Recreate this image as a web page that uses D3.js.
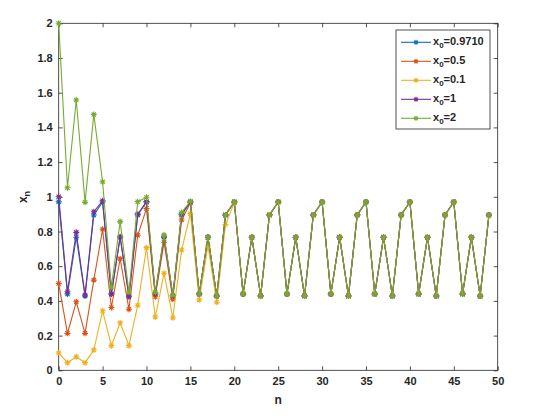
<!DOCTYPE html>
<html>
<head>
<meta charset="utf-8">
<script src="https://cdn.jsdelivr.net/npm/d3@7"></script>
<style>
  body { margin: 0; background: #fff; }
  svg { display: block; font-family: "Liberation Sans", Arial, sans-serif; }
</style>
</head>
<body>
<svg width="536" height="417"></svg>
<script>
// donnees, n = 0..49
var seriesLabels = ["0.9710", "0.5", "0.1", "1", "2"];
var seriesColors = ["#0072BD", "#D95319", "#EDB120", "#7E2F8E", "#77AC30"];

var x0_0971 = [0.971,0.440,0.767,0.428,0.895, 0.970,0.440,0.767,0.428,0.895,
               0.970,0.440,0.767,0.428,0.895, 0.970,0.440,0.767,0.428,0.895,
               0.970,0.440,0.767,0.428,0.895, 0.970,0.440,0.767,0.428,0.895,
               0.970,0.440,0.767,0.428,0.895, 0.970,0.440,0.767,0.428,0.895,
               0.970,0.440,0.767,0.428,0.895, 0.970,0.440,0.767,0.428,0.895];
var x0_05 = [0.500,0.213,0.395,0.213,0.520, 0.813,0.362,0.643,0.352,0.778,
             0.932,0.424,0.738,0.410,0.866, 0.966,0.440,0.767,0.428,0.895,
             0.970,0.440,0.767,0.428,0.895, 0.970,0.440,0.767,0.428,0.895,
             0.970,0.440,0.767,0.428,0.895, 0.970,0.440,0.767,0.428,0.895,
             0.970,0.440,0.767,0.428,0.895, 0.970,0.440,0.767,0.428,0.895];
var x0_01 = [0.100,0.044,0.078,0.044,0.117, 0.343,0.142,0.274,0.142,0.375,
             0.707,0.307,0.559,0.303,0.693, 0.903,0.405,0.718,0.392,0.840,
             0.965,0.440,0.767,0.428,0.895, 0.970,0.440,0.767,0.428,0.895,
             0.970,0.440,0.767,0.428,0.895, 0.970,0.440,0.767,0.428,0.895,
             0.970,0.440,0.767,0.428,0.895, 0.970,0.440,0.767,0.428,0.895];
var x0_1 = [1.000,0.453,0.795,0.434,0.914, 0.977,0.440,0.770,0.424,0.900,
            0.972,0.440,0.770,0.430,0.900, 0.970,0.440,0.767,0.428,0.895,
            0.970,0.440,0.767,0.428,0.895, 0.970,0.440,0.767,0.428,0.895,
            0.970,0.440,0.767,0.428,0.895, 0.970,0.440,0.767,0.428,0.895,
            0.970,0.440,0.767,0.428,0.895, 0.970,0.440,0.767,0.428,0.895];
var x0_2 = [2.000,1.052,1.558,0.968,1.475, 1.087,0.480,0.857,0.450,0.972,
            0.997,0.450,0.780,0.432,0.910, 0.975,0.440,0.767,0.428,0.895,
            0.970,0.440,0.767,0.428,0.895, 0.970,0.440,0.767,0.428,0.895,
            0.970,0.440,0.767,0.428,0.895, 0.970,0.440,0.767,0.428,0.895,
            0.970,0.440,0.767,0.428,0.895, 0.970,0.440,0.767,0.428,0.895];
var seriesValues = [x0_0971, x0_05, x0_01, x0_1, x0_2];

var xTicks = [0, 5, 10, 15, 20, 25, 30, 35, 40, 45, 50];
var yTicks = [0, 0.2, 0.4, 0.6, 0.8, 1, 1.2, 1.4, 1.6, 1.8, 2];

var svg = d3.select("svg");
var plotL = 58.7, plotR = 497.7, plotT = 23.3, plotB = 370.3;
var axisColor = "#262626";

var x = d3.scaleLinear().domain([0, 50]).range([plotL, plotR]);
var y = d3.scaleLinear().domain([0, 2]).range([plotB, plotT]);

// forme de l'asterisque (comme le marqueur '*' de matlab)
function star(r) {
    var a = r * 0.707;
    return "M" + (-r) + ",0L" + r + ",0M0," + (-r) + "L0," + r +
        "M" + (-a) + "," + (-a) + "L" + a + "," + a +
        "M" + (-a) + "," + a + "L" + a + "," + (-a);
}

// axes
function styleAxis(g) {
    g.select(".domain").remove();
    g.selectAll("line").attr("stroke", axisColor).attr("stroke-width", 0.8);
    g.selectAll("text").attr("fill", axisColor).attr("font-size", "11px").attr("font-weight", "bold");
}
svg.append("g").attr("transform", "translate(0," + plotB + ")")
    .call(d3.axisBottom(x).tickValues(xTicks).tickSize(-4).tickSizeOuter(0).tickPadding(7))
    .call(styleAxis);
svg.append("g").attr("transform", "translate(0," + plotT + ")")
    .call(d3.axisTop(x).tickValues(xTicks).tickSize(-4).tickSizeOuter(0).tickFormat(""))
    .call(styleAxis);
svg.append("g").attr("transform", "translate(" + plotL + ",0)")
    .call(d3.axisLeft(y).tickValues(yTicks).tickSize(-4).tickSizeOuter(0).tickPadding(6).tickFormat(d3.format("")))
    .call(styleAxis);
svg.append("g").attr("transform", "translate(" + plotR + ",0)")
    .call(d3.axisRight(y).tickValues(yTicks).tickSize(-4).tickSizeOuter(0).tickFormat(""))
    .call(styleAxis);

svg.append("rect")
    .attr("x", plotL).attr("y", plotT)
    .attr("width", plotR - plotL).attr("height", plotB - plotT)
    .attr("fill", "none").attr("stroke", axisColor).attr("stroke-width", 0.8);

// courbes
var line = d3.line()
    .x(function(d, i) { return x(i); })
    .y(function(d) { return y(d); });

seriesValues.forEach(function(vals, k) {
    var g = svg.append("g");
    g.append("path")
        .attr("d", line(vals))
        .attr("fill", "none")
        .attr("stroke", seriesColors[k])
        .attr("stroke-width", 1.1);
    g.selectAll("path.mk").data(vals).enter()
        .append("path")
        .attr("class", "mk")
        .attr("transform", function(d, i) { return "translate(" + x(i) + "," + y(d) + ")"; })
        .attr("d", star(3))
        .attr("fill", "none")
        .attr("stroke", seriesColors[k])
        .attr("stroke-width", 1.1);
});

// titres des axes
svg.append("text")
    .attr("x", (plotL + plotR) / 2).attr("y", 404)
    .attr("text-anchor", "middle")
    .attr("font-size", "12px").attr("font-weight", "bold").attr("fill", axisColor)
    .text("n");

var yl = svg.append("text")
    .attr("transform", "translate(27,197) rotate(-90)")
    .attr("text-anchor", "middle")
    .attr("font-size", "12px").attr("font-weight", "bold").attr("fill", axisColor);
yl.append("tspan").text("x");
yl.append("tspan").attr("font-size", "9px").attr("dy", 3).text("n");

// legende
var legend = svg.append("g");
legend.append("rect")
    .attr("x", 396).attr("y", 30).attr("width", 94).attr("height", 99)
    .attr("fill", "#fff").attr("stroke", axisColor).attr("stroke-width", 0.8);

var ly = d3.scalePoint().domain(seriesLabels).range([42.3, 118.3]);
seriesLabels.forEach(function(lab, k) {
    var yy = ly(lab);
    legend.append("line")
        .attr("x1", 401).attr("x2", 431).attr("y1", yy).attr("y2", yy)
        .attr("stroke", seriesColors[k]).attr("stroke-width", 1.1);
    legend.append("path")
        .attr("transform", "translate(416," + yy + ")")
        .attr("d", star(2.5))
        .attr("fill", "none").attr("stroke", seriesColors[k]).attr("stroke-width", 1.1);
    var t = legend.append("text")
        .attr("x", 433).attr("y", yy + 3)
        .attr("font-size", "11px").attr("font-weight", "bold").attr("fill", axisColor);
    t.append("tspan").text("x");
    t.append("tspan").attr("font-size", "8px").attr("dy", 3).text("0");
    t.append("tspan").attr("dy", -3).text("=" + lab);
});
</script>
</body>
</html>
